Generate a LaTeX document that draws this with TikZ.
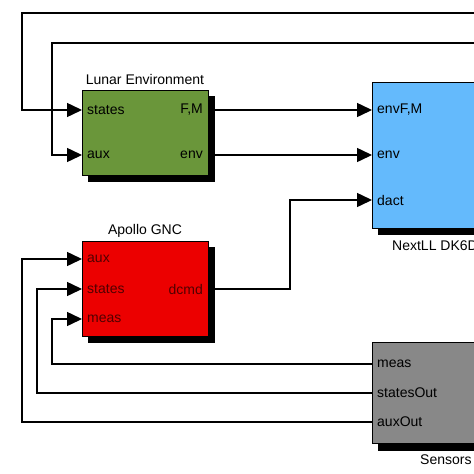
\documentclass[tikz,border=0pt]{standalone}
\usepackage{fontspec}
\setmainfont{Liberation Sans}
\usetikzlibrary{arrows.meta}
\definecolor{lunarg}{RGB}{106,150,58}
\definecolor{gncred}{RGB}{236,0,0}
\definecolor{dynblue}{RGB}{100,186,252}
\definecolor{sensgray}{RGB}{136,136,136}
\definecolor{darkport}{RGB}{80,0,0}
\begin{document}
\begin{tikzpicture}[x=1pt,y=-1pt,font=\fontsize{14}{16}\selectfont,
  wire/.style={line width=1.5pt},
  arr/.style={wire,-{Triangle[length=15pt,width=14pt]}},
  blk/.style={draw=black,line width=1pt,anchor=north west,inner sep=0pt},
  pl/.style={inner sep=0pt,anchor=west},
  pr/.style={inner sep=0pt,anchor=east},
  ttl/.style={inner sep=0pt}]
\useasboundingbox (0,0) rectangle (474,474);
\clip (0,0) rectangle (474,474);
% shadows
\fill[black] (88,96) rectangle (215,182);
\fill[black] (88,247) rectangle (215,343);
\fill[black] (378,88) rectangle (530,235);
\fill[black] (378,348) rectangle (530,451);
% blocks
\node[blk,fill=lunarg,minimum width=126pt,minimum height=85pt] (lunar) at (82,90) {};
\node[blk,fill=gncred,minimum width=126pt,minimum height=95pt] (gnc) at (82,241) {};
\node[blk,fill=dynblue,minimum width=150pt,minimum height=146pt] (dyn) at (372,82) {};
\node[blk,fill=sensgray,minimum width=150pt,minimum height=101pt] (sens) at (372,342) {};
% titles
\node[ttl] (lunarT) at (145,79) {Lunar Environment};
\node[ttl] (gncT) at (145,231) {Apollo GNC};
\node[ttl,anchor=west] (dynT) at (392,246) {NextLL DK6D};
\node[ttl,anchor=west] (sensT) at (420,460) {Sensors};
% ports
\coordinate (lsI) at (82,110);
\coordinate (laI) at (82,155);
\coordinate (lfO) at (208,110);
\coordinate (leO) at (208,155);
\coordinate (gaI) at (82,259);
\coordinate (gsI) at (82,289);
\coordinate (gmI) at (82,319);
\coordinate (gdO) at (208,289);
\coordinate (dfI) at (372,110);
\coordinate (deI) at (372,155);
\coordinate (ddI) at (372,200);
\coordinate (smO) at (372,364);
\coordinate (ssO) at (372,393);
\coordinate (saO) at (372,422);
\coordinate (topA) at (480,13);
\coordinate (topB) at (480,43);
% port labels
\node[pl] at (87,110) {states};
\node[pl] at (87,155) {aux};
\node[pr] at (203,110) {F,M};
\node[pr] at (203,155) {env};
\node[pl,text=darkport] at (87,259) {aux};
\node[pl,text=darkport] at (87,289) {states};
\node[pl,text=darkport] at (87,319) {meas};
\node[pr,text=darkport] at (203,289) {dcmd};
\node[pl] at (377,110) {envF,M};
\node[pl] at (377,155) {env};
\node[pl] at (377,200) {dact};
\node[pl] at (377,364) {meas};
\node[pl] at (377,393) {statesOut};
\node[pl] at (377,422) {auxOut};
% connectors
\draw[arr] (topA) -- (22,13) -- (22,110) -- (lsI);
\draw[arr] (topB) -- (52,43) -- (52,155) -- (laI);
\draw[arr] (lfO) -- (dfI);
\draw[arr] (leO) -- (deI);
\draw[arr] (gdO) -- (290,289) -- (290,200) -- (ddI);
\draw[arr] (smO) -- (52,364) -- (52,319) -- (gmI);
\draw[arr] (ssO) -- (37,393) -- (37,289) -- (gsI);
\draw[arr] (saO) -- (22,422) -- (22,259) -- (gaI);
\end{tikzpicture}
\end{document}
